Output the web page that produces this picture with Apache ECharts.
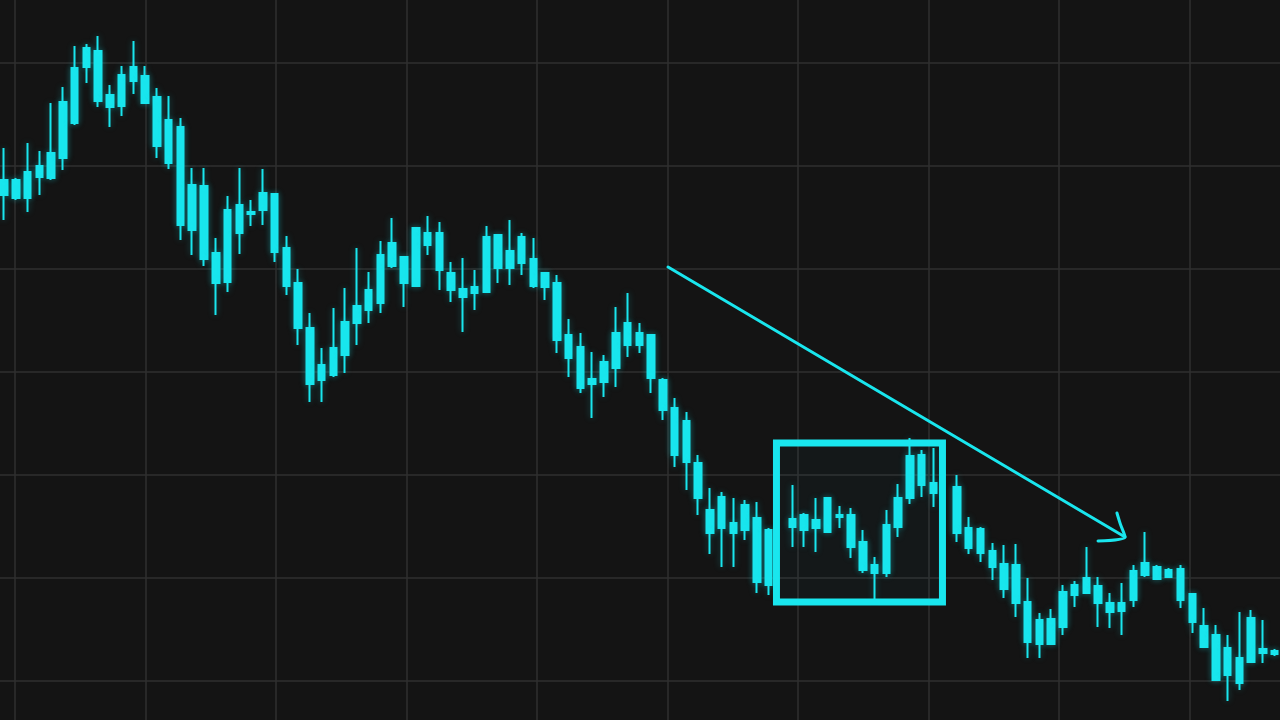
<!DOCTYPE html>
<html>
<head>
<meta charset="utf-8">
<script src="https://cdn.jsdelivr.net/npm/echarts@6.0.0/dist/echarts.min.js"></script>
<style>
html,body{margin:0;padding:0;background:#141414;}
#chart{width:1280px;height:720px;}
</style>
</head>
<body>
<div id="chart"></div>
<script>
// ---- candle data (open, close, low, high); null = session hidden under the box frame ----
const openVals = [58.9,58.9,58.6,58.6,60.7,60.6,62.6,66.1,71.7,68.3,67.7,67.8,70.3,68.1,63.8,62.1,55.9,55.4,52.5,50.1,50.2,55.1,57.0,57.4,53.2,49.8,45.6,40.0,40.4,40.9,42.9,46.1,47.4,48.1,51.8,50.1,49.8,53.9,51.4,49.4,48.7,49.1,49.2,51.6,51.6,52.1,49.8,49.7,44.4,42.6,39.6,40.0,40.2,41.6,43.9,43.9,40.6,37.4,32.9,32.2,28.6,25.1,25.6,25.1,25.4,20.2,19.9,null,25.7,25.4,25.6,25.2,26.7,23.7,21.4,21.1,21.1,25.7,28.6,29.9,29.1,null,25.1,23.6,23.1,21.7,19.5,18.1,14.2,14.0,14.0,15.7,18.9,19.1,18.1,17.2,17.3,18.4,20.9,20.5,20.7,18.4,16.2,13.7,10.4,10.9,10.1,12.2,13.1,13.0];
const closeVals = [60.2,60.4,60.4,61.2,61.8,63.1,68.2,71.6,73.6,73.3,68.9,70.9,71.7,70.8,68.7,66.4,65.7,59.9,59.8,53.1,57.4,57.9,57.2,59.1,59.0,53.6,50.1,45.6,41.9,43.6,46.2,47.8,49.4,52.9,54.1,52.7,55.6,55.1,55.1,51.1,49.5,49.7,54.7,54.9,53.3,54.7,52.5,51.1,50.1,44.9,43.7,40.5,42.2,45.1,46.1,45.1,44.9,40.4,37.6,36.3,32.1,27.4,28.7,26.1,27.9,26.6,25.4,null,26.5,26.9,26.4,28.6,26.9,26.9,24.2,21.9,25.9,28.6,32.8,32.9,30.1,null,29.7,25.6,25.5,23.3,22.0,21.9,18.2,16.4,16.5,19.2,19.9,20.6,19.8,18.1,18.1,21.3,22.1,21.7,21.4,21.5,19.0,15.8,14.9,13.6,12.6,16.6,13.5,13.3];
const lowVals = [57.9,56.4,58.4,57.2,58.9,60.4,61.4,65.9,70.1,67.7,65.7,66.8,69.0,68.1,62.6,61.5,54.4,52.9,51.8,46.9,49.2,53.0,55.8,55.9,52.2,48.9,43.9,38.2,38.2,40.7,41.1,43.9,46.1,47.1,51.6,47.7,49.8,52.9,49.4,48.2,45.2,47.4,49.1,50.1,49.9,50.9,49.6,48.4,43.1,40.7,39.1,36.6,38.7,39.7,42.7,43.1,39.1,36.4,31.7,29.4,26.9,23.0,21.7,21.7,24.4,19.1,18.9,null,23.7,23.7,23.2,25.1,25.6,22.6,21.1,18.4,20.7,24.7,28.0,28.7,27.7,null,24.2,23.0,22.2,20.4,18.6,16.7,12.6,12.6,13.9,14.9,17.7,19.1,15.7,15.6,14.9,17.7,20.7,20.4,20.6,17.6,15.1,13.7,10.4,8.3,9.4,12.2,12.1,12.8];
const highVals = [60.9,63.6,60.6,64.1,63.3,68.1,69.7,73.8,74.0,74.8,69.9,71.8,74.3,71.8,69.6,68.8,66.6,61.6,61.6,54.6,58.8,61.6,58.4,61.5,59.1,54.8,51.5,47.1,43.6,47.6,49.6,53.6,51.2,54.3,56.6,52.7,55.7,56.8,56.2,52.2,52.6,51.4,55.8,54.9,56.4,55.1,54.6,51.2,50.9,46.5,45.1,43.2,42.9,47.7,49.1,46.1,45.0,40.6,38.6,37.2,32.9,29.6,29.2,28.6,28.4,28.2,25.6,null,29.9,27.1,28.6,28.7,27.8,27.6,25.4,22.7,27.4,30.0,34.6,33.4,33.6,null,30.9,26.7,25.7,24.1,23.9,24.0,20.6,17.1,17.5,19.9,20.3,23.7,20.7,19.1,20.1,21.9,25.2,21.9,21.6,21.9,19.1,17.6,15.9,14.9,17.2,17.4,16.4,13.5];

// session labels (category axis, hidden)
const categories = [];
for (let i = 0; i < openVals.length; i++) categories.push('S' + (i + 1));

// ---- annotation geometry, in the guide grid's data units ----
const boxLeft = 6.835, boxRight = 8.107, boxTop = 34.1, boxBottom = 18.2;
const boxPath = [
  [(boxLeft + boxRight) / 2, boxTop], [boxRight, boxTop], [boxRight, boxBottom],
  [boxLeft, boxBottom], [boxLeft, boxTop], [(boxLeft + boxRight) / 2, boxTop]
];
const arrowShaft = [[6.004, 51.7], [9.506, 24.7]];
const arrowHead = [[9.444, 27.1], [9.47, 26.0], [9.506, 24.7], [9.299, 24.3]];

const CYAN = '#19e6ee';

const chart = echarts.init(document.getElementById('chart'), null, {renderer: 'canvas'});
const hiddenAxis = {axisLine: {show: false}, axisTick: {show: false}, axisLabel: {show: false}};

const candleData = categories.map((_, i) =>
  openVals[i] == null ? '-' : [openVals[i], closeVals[i], lowVals[i], highVals[i]]);

chart.setOption({
  backgroundColor: '#141414',
  animation: false,
  grid: [
    {left: -13.65, right: -0.5, top: -16, bottom: -64, containLabel: false, outerBoundsMode: 'none'},
    {left: -115.5, right: -40, top: -16, bottom: -64, containLabel: false, outerBoundsMode: 'none'}
  ],
  xAxis: [
    {type: 'category', gridIndex: 0, data: categories, boundaryGap: true, show: false},
    Object.assign({type: 'value', gridIndex: 1, min: 0, max: 11, interval: 1,
      splitLine: {show: true, lineStyle: {color: '#2f2f2f', width: 1.5}}}, hiddenAxis)
  ],
  yAxis: [
    {type: 'value', gridIndex: 0, min: 0, max: 80, show: false},
    Object.assign({type: 'value', gridIndex: 1, min: 0, max: 80, interval: 10.3,
      splitLine: {show: true, lineStyle: {color: '#2f2f2f', width: 1.5}}}, hiddenAxis)
  ],
  series: [
    {
      type: 'candlestick',
      xAxisIndex: 0, yAxisIndex: 0,
      barWidth: 7,
      data: candleData,
      itemStyle: {
        color: CYAN, color0: CYAN, borderColor: CYAN, borderColor0: CYAN,
        borderWidth: 2, shadowBlur: 6, shadowColor: 'rgba(25,230,238,0.35)'
      },
      z: 2
    },
    {
      type: 'line',
      xAxisIndex: 1, yAxisIndex: 1,
      data: boxPath,
      symbol: 'none',
      lineStyle: {color: CYAN, width: 7, join: 'miter', cap: 'butt'},
      markArea: {
        silent: true,
        itemStyle: {color: 'rgba(25,230,238,0.025)'},
        data: [[{coord: [boxLeft, boxTop]}, {coord: [boxRight, boxBottom]}]]
      },
      z: 5
    },
    {
      type: 'line',
      xAxisIndex: 1, yAxisIndex: 1,
      data: arrowShaft,
      symbol: 'none',
      lineStyle: {color: CYAN, width: 3, cap: 'round'},
      z: 5
    },
    {
      type: 'line',
      xAxisIndex: 1, yAxisIndex: 1,
      data: arrowHead,
      symbol: 'none',
      smooth: 0.3,
      lineStyle: {color: CYAN, width: 3, cap: 'round', join: 'round'},
      z: 5
    }
  ]
});
</script>
</body>
</html>
